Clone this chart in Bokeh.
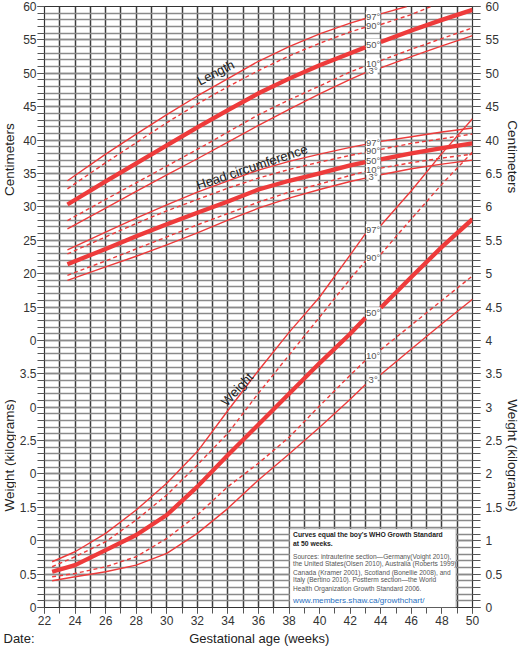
import json
import numpy as np
from bokeh.plotting import figure
from bokeh.layouts import row, column
from bokeh.models import (Range1d, LinearAxis, FixedTicker, CustomJSTickFormatter,
                          Label, BoxAnnotation, ColumnDataSource)
from bokeh.core.properties import value
from bokeh.embed import file_html
from bokeh.resources import INLINE

# ---------------- data ----------------
LEN_WEEKS = [23.5, 26, 28, 30, 32, 34, 36, 38, 40, 42, 43, 44, 46, 48, 50]
LEN_P97_WEEKS = [23.5, 26, 28, 30, 32, 34, 36, 38, 40, 42, 43, 44, 45.7]
LEN_P90_WEEKS = [23.5, 26, 28, 30, 32, 34, 36, 38, 40, 42, 43, 44, 46, 47.3]
LEN_P97 = [33.9, 37.9, 40.9, 43.8, 46.6, 49.2, 51.8, 54.0, 55.9, 57.5, 58.2, 58.9, 60.0]
LEN_P90 = [32.7, 36.6, 39.6, 42.6, 45.4, 48.0, 50.4, 52.6, 54.5, 56.2, 56.9, 57.3, 58.8, 60.0]
LEN_P50 = [30.35, 33.8, 36.5, 39.2, 41.9, 44.5, 47.0, 49.2, 51.2, 53.0, 53.9, 54.7, 56.4, 58.0, 59.5]
LEN_P10 = [27.95, 31.1, 33.6, 36.1, 38.6, 41.2, 43.8, 46.0, 48.1, 50.2, 51.1, 51.9, 53.6, 55.2, 56.8]
LEN_P3 = [26.7, 29.8, 32.3, 34.8, 37.2, 39.7, 42.2, 44.6, 46.9, 49.1, 50.1, 50.8, 52.5, 54.1, 55.65]

HC_WEEKS = [23.5, 26, 28, 30, 32, 34, 36, 38, 40, 42, 43, 44, 46, 48, 50]
HC_P97 = [23.55, 26.2, 28.3, 30.3, 32.2, 33.9, 35.5, 36.8, 37.9, 38.9, 39.35, 39.8, 40.5, 41.2, 41.8]
HC_P90 = [22.95, 25.5, 27.5, 29.4, 31.1, 32.8, 34.3, 35.6, 36.7, 37.7, 38.15, 38.6, 39.5, 40.2, 40.9]
HC_P50 = [21.4, 23.7, 25.6, 27.4, 29.1, 30.8, 32.6, 33.9, 35.0, 36.2, 36.7, 37.1, 38.0, 38.8, 39.5]
HC_P10 = [19.75, 21.9, 23.7, 25.5, 27.3, 29.0, 30.7, 32.2, 33.4, 34.7, 35.3, 35.8, 36.6, 37.3, 37.9]
HC_P3 = [19.0, 21.0, 22.6, 24.3, 26.1, 28.0, 29.8, 31.3, 32.6, 33.8, 34.3, 34.8, 35.7, 36.4, 37.0]

WT_WEEKS = [22.5, 24, 26, 28, 30, 32, 34, 36, 38, 40, 42, 43, 44, 46, 48, 50]
WT_P97 = [0.685, 0.835, 1.11, 1.46, 1.86, 2.335, 2.95, 3.55, 4.12, 4.65, 5.28, 5.60, 5.72, 6.24, 6.80, 7.32]
WT_P90 = [0.61, 0.76, 0.985, 1.31, 1.685, 2.135, 2.61, 3.21, 3.78, 4.35, 4.92, 5.19, 5.29, 5.82, 6.34, 6.82]
WT_P50 = [0.535, 0.635, 0.86, 1.085, 1.385, 1.81, 2.285, 2.74, 3.20, 3.66, 4.10, 4.34, 4.49, 4.95, 5.40, 5.815]
WT_P10 = [0.46, 0.51, 0.61, 0.76, 1.035, 1.385, 1.81, 2.16, 2.55, 3.02, 3.48, 3.70, 3.86, 4.23, 4.60, 4.965]
WT_P3 = [0.40, 0.46, 0.535, 0.635, 0.81, 1.11, 1.485, 1.91, 2.30, 2.70, 3.12, 3.34, 3.49, 3.87, 4.25, 4.615]

PCT_LABELS = ["97°", "90°", "50°", "10°", "3°"]

X_TICKS = list(range(22, 51, 2))
LEFT_TICK_LABELS = ["0", "0.5", "0", "1.5", "0", "2.5", "0", "3.5", "0", "15",
                    "20", "25", "30", "35", "40", "45", "50", "55", "60"]
RIGHT_TICK_LABELS = ["0", "0.5", "1", "1.5", "2", "2.5", "3", "3.5", "4", "4.5",
                     "5", "5.5", "6", "6.5", "40", "45", "50", "55", "60"]

NOTE_TITLE = ["Curves equal the boy's WHO Growth Standard", "at 50 weeks."]
NOTE_LINES = ["Sources: intrauterine section\u2014Germany(Voight 2010),",
              "the United States(Olsen 2010), Australia (Roberts 1999)",
              "Canada (Kramer 2001), Scotland (Bonellie 2008), and",
              "Italy (Bertino 2010). Postterm section\u2014the World",
              "Health Organization Growth Standard 2006."]
NOTE_URL = "www.members.shaw.ca/growthchart/"

# ---------------- styling / layout ----------------
RED = "#ee3b3b"
FONT = "Liberation Sans"
TXT = "#222222"
LEFT_W, RIGHT_W, BOTTOM_H = 16, 15, 14
MAIN_W, MAIN_H = 489, 632
ML, MR, MT, MB = 28, 32, 6, 25
KG_MAX = 9.0


def strip(w, h, xr, yr):
    s = figure(width=w, height=h, output_backend="svg", toolbar_location=None,
               x_range=Range1d(*xr), y_range=Range1d(*yr),
               x_axis_location=None, y_axis_location=None, min_border=0,
               background_fill_color="white", border_fill_color="white")
    s.outline_line_color = None
    s.grid.visible = False
    return s


p = figure(width=MAIN_W, height=MAIN_H, output_backend="svg", toolbar_location=None,
           x_range=Range1d(22, 50), y_range=Range1d(0, KG_MAX),
           min_border_left=ML, min_border_right=MR, min_border_top=MT,
           min_border_bottom=MB, background_fill_color="white",
           border_fill_color="white")
p.extra_y_ranges = {"cm": Range1d(-30, 60)}
p.outline_line_color = "#333333"
p.outline_line_width = 1.2

y_ticker = FixedTicker(ticks=[i * 0.5 for i in range(19)],
                       minor_ticks=[round(i * 0.1, 1) for i in range(91)])
x_ticker = FixedTicker(ticks=X_TICKS, minor_ticks=list(range(22, 51)))


def fmt(labels):
    return CustomJSTickFormatter(code="const L = %s; const i = Math.round(tick*2); return (L[i] !== undefined) ? L[i] : '';" % json.dumps(labels))


def style_axis(ax, ticker, tick_out, standoff):
    ax.ticker = ticker
    ax.axis_line_color = None
    ax.major_tick_line_color = "#333333"
    ax.minor_tick_line_color = "#555555"
    ax.major_tick_in = 0
    ax.minor_tick_in = 0
    ax.major_tick_out = tick_out
    ax.minor_tick_out = tick_out
    ax.major_label_standoff = standoff
    ax.major_label_text_font = FONT
    ax.major_label_text_font_size = "12px"
    ax.major_label_text_color = "#333333"


left = p.yaxis[0]
style_axis(left, y_ticker, 7, 1)
left.formatter = fmt(LEFT_TICK_LABELS)

right = LinearAxis(formatter=fmt(RIGHT_TICK_LABELS))
style_axis(right, y_ticker, 8, 5)
p.add_layout(right, "right")

bottom = p.xaxis[0]
style_axis(bottom, x_ticker, 6, 2)

p.xgrid.ticker = FixedTicker(ticks=list(range(22, 51)))
p.xgrid.grid_line_color = "#3d3d3d"
p.xgrid.grid_line_width = 1.5
p.ygrid.ticker = y_ticker
p.ygrid.grid_line_color = "#8a8a8a"
p.ygrid.grid_line_width = 1.4
p.ygrid.minor_grid_line_color = "#8a8a8a"
p.ygrid.minor_grid_line_width = 1.4


def split(weeks, vals):
    xs, ys = [], []
    for w, v in zip(weeks, vals):
        if w == 44:
            xs.append(np.nan)
            ys.append(np.nan)
        xs.append(w)
        ys.append(v)
    return xs, ys


STYLE = {"97°": (1.4, "solid"), "90°": (1.4, "4 3"), "50°": (4.3, "solid"),
         "10°": (1.4, "4 3"), "3°": (1.4, "solid")}

groups = [
    ("cm", [(LEN_P97_WEEKS, LEN_P97), (LEN_P90_WEEKS, LEN_P90), (LEN_WEEKS, LEN_P50),
            (LEN_WEEKS, LEN_P10), (LEN_WEEKS, LEN_P3)]),
    ("cm", [(HC_WEEKS, HC_P97), (HC_WEEKS, HC_P90), (HC_WEEKS, HC_P50),
            (HC_WEEKS, HC_P10), (HC_WEEKS, HC_P3)]),
    ("default", [(WT_WEEKS, WT_P97), (WT_WEEKS, WT_P90), (WT_WEEKS, WT_P50),
                 (WT_WEEKS, WT_P10), (WT_WEEKS, WT_P3)]),
]

for rng, curves in groups:
    lx, ly, lt = [], [], []
    for lab, (wks, vals) in zip(PCT_LABELS, curves):
        xs, ys = split(wks, vals)
        lw, dash = STYLE[lab]
        p.line(xs, ys, y_range_name=rng, line_color=RED, line_width=lw,
               line_dash=dash, line_join="round", line_cap="butt")
        v43 = vals[wks.index(43)]
        v44 = vals[wks.index(44)]
        lx.append(43.5)
        ly.append((v43 + v44) / 2.0)
        lt.append(lab)
    src = ColumnDataSource(dict(x=lx, y=ly, t=lt))
    # white backing boxes first, then the label texts on top of all boxes
    p.text(x="x", y="y", text="t", source=src, y_range_name=rng,
           text_font=value(FONT), text_font_size="9.5px", text_alpha=0.0,
           text_align="center", text_baseline="middle",
           background_fill_color="white")
    p.text(x="x", y="y", text="t", source=src, y_range_name=rng,
           text_font=value(FONT), text_font_size="9.5px", text_color="#555555",
           text_align="center", text_baseline="middle")

# curve names
p.add_layout(Label(x=33.2, y=50.1, y_range_name="cm", text="Length",
                   angle=np.radians(27), text_font=FONT, text_font_size="13px",
                   text_color=TXT, text_align="center", text_baseline="middle"))
p.add_layout(Label(x=35.57, y=35.96, y_range_name="cm", text="Head circumference",
                   angle=np.radians(18.6), text_font=FONT, text_font_size="13px",
                   text_color=TXT, text_align="center", text_baseline="middle"))
p.add_layout(Label(x=34.6, y=3.27, text="Weight", angle=np.radians(47),
                   text_font=FONT, text_font_size="13px", text_color=TXT,
                   text_align="center", text_baseline="middle"))

# note box
p.add_layout(BoxAnnotation(left=38.04, right=48.92, bottom=0, top=1.178,
                           fill_color="white", fill_alpha=1.0,
                           line_color="#333333", line_width=1))
NX = 38.26
for txt, yy in zip(NOTE_TITLE, [1.089, 0.963]):
    p.add_layout(Label(x=NX, y=yy, text=txt, text_font=FONT, text_font_size="6.8px",
                       text_font_style="bold", text_color=TXT,
                       text_align="left", text_baseline="middle"))
for txt, yy in zip(NOTE_LINES, [0.768, 0.654, 0.529, 0.415, 0.289]):
    p.add_layout(Label(x=NX, y=yy, text=txt, text_font=FONT, text_font_size="6.6px",
                       text_color="#555555", text_align="left", text_baseline="middle"))
p.add_layout(Label(x=NX, y=0.105, text=NOTE_URL, text_font=FONT, text_font_size="8.1px",
                   text_color="#2a6fc0", text_align="left", text_baseline="middle"))

# side strips with the axis titles (page-pixel coordinates)
ls = strip(LEFT_W, MAIN_H, (0, LEFT_W), (MAIN_H, 0))
ls.text(x=[9, 9], y=[161, 472], text=["Centimeters", "Weight (kilograms)"],
        angle=np.pi / 2, text_font=value(FONT), text_font_size="13.5px",
        text_color=TXT, text_align="center", text_baseline="middle")

rs = strip(RIGHT_W, MAIN_H, (LEFT_W + MAIN_W, 520), (MAIN_H, 0))
rs.text(x=[512, 512], y=[158, 472], text=["Centimeters", "Weight (kilograms)"],
        angle=-np.pi / 2, text_font=value(FONT), text_font_size="13.5px",
        text_color=TXT, text_align="center", text_baseline="middle")

bs = strip(520, BOTTOM_H, (0, 520), (MAIN_H + BOTTOM_H, MAIN_H))
bs.text(x=[3, 258.8], y=[638, 638], text=["Date:", "Gestational age (weeks)"],
        text_align=["left", "center"], text_font=value(FONT), text_font_size="13px",
        text_color=TXT, text_baseline="middle")

layout = column(row(ls, p, rs, spacing=0), bs, spacing=0)
open("out.html", "w").write(file_html(layout, INLINE))
